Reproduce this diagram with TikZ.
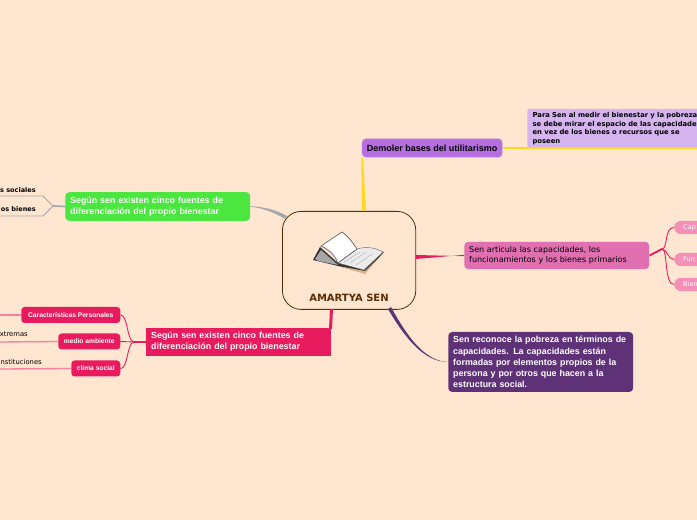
\documentclass[tikz,border=0pt]{standalone}
\usepackage{fontspec}
\setmainfont{Liberation Sans}
\newfontfamily\verdanafont{DejaVu Sans}
\usetikzlibrary{calc}
\definecolor{bgcol}{HTML}{FEE6D0}
\definecolor{browncol}{HTML}{5A2D06}
\definecolor{greencol}{HTML}{4CE640}
\definecolor{redcol}{HTML}{E91B5F}
\definecolor{pinkline}{HTML}{F77FA0}
\definecolor{violetcol}{HTML}{B66FE0}
\definecolor{lilaccol}{HTML}{D6B4F0}
\definecolor{yellowcol}{HTML}{FFD71F}
\definecolor{rosecol}{HTML}{E070B0}
\definecolor{softpink}{HTML}{F48FB8}
\definecolor{plumcol}{HTML}{5F3278}
\definecolor{grayline}{HTML}{A3A6AC}
\tikzset{
  topic/.style={anchor=west,rounded corners=3pt,align=left,inner ysep=0pt,inner xsep=3.7pt,
    font=\fontsize{6.65}{8.4}\selectfont\bfseries,text=white},
  leaf/.style={anchor=west,rounded corners=2.5pt,align=center,inner ysep=0pt,inner xsep=0pt,
    fill=redcol,text=white,font=\fontsize{5}{6}\selectfont\bfseries},
  softleaf/.style={anchor=west,rounded corners=5pt,align=left,inner ysep=0pt,inner xsep=6.7pt,
    fill=softpink,text=white,font=\verdanafont\fontsize{4.9}{6}\selectfont,minimum height=10pt,text width=35pt},
  tail/.style={anchor=east,inner sep=0pt,font=\verdanafont\fontsize{5.1}{6}\selectfont},
  fork/.style={line width=0.65pt,line cap=round},
}
\begin{document}
\begin{tikzpicture}[x=0.75pt,y=-0.75pt,line join=round]
\useasboundingbox (0,0) rectangle (697,520);
\clip (0,0) rectangle (697,520);
\fill[bgcol] (0,0) rectangle (697,520);

% nodes
\node[draw=browncol,fill=bgcol,rounded corners=14pt,line width=0.6pt,minimum width=100pt,minimum height=73.5pt,anchor=north west] (sen) at (282,211) {};
\node[anchor=base,text=browncol,font=\verdanafont\fontsize{7.5}{9}\selectfont\bfseries,inner sep=0pt] (senlabel) at (349,302) {AMARTYA SEN};

\node[topic,fill=greencol,minimum width=138.7pt,minimum height=21.5pt,text width=131.3pt] (fuentes) at (65,206.5) {Según sen existen cinco fuentes de\\diferenciación del propio bienestar};
\node[topic,fill=redcol,rounded corners=0pt,minimum width=138.7pt,minimum height=21pt,text width=131.3pt] (fuentesb) at (146,342) {Según sen existen cinco fuentes de\\diferenciación del propio bienestar};
\node[topic,fill=violetcol,text=black,minimum width=104.6pt,minimum height=14pt,font=\fontsize{6.75}{8}\selectfont\bfseries] (demoler) at (361.7,148) {Demoler bases del utilitarismo};
\node[topic,fill=lilaccol,text=black,minimum width=150pt,minimum height=29.5pt,text width=142pt,rounded corners=2pt,inner xsep=3.3pt,font=\verdanafont\fontsize{5.1}{6.5}\selectfont\bfseries] (para) at (527,128.5) {Para Sen al medir el bienestar y la pobreza\\se debe mirar el espacio de las capacidade\\en vez de los bienes o recursos que se\\poseen};
\node[topic,fill=rosecol,text=black,minimum width=138.7pt,minimum height=20.5pt,text width=131.3pt,inner xsep=3.4pt,font=\verdanafont\fontsize{6}{7.2}\selectfont] (articula) at (464,255.5) {Sen articula las capacidades, los\\funcionamientos y los bienes primarios};
\node[topic,fill=plumcol,minimum width=138.7pt,minimum height=45pt,text width=131.3pt] (reconoce) at (448,362) {Sen reconoce la pobreza en términos de\\capacidades. La capacidades están\\formadas por elementos propios de la\\persona y por otros que hacen a la\\estructura social.};

\node[leaf,minimum width=74.3pt,minimum height=12pt] (caract) at (21,315) {Características Personales};
\node[leaf,minimum width=46.5pt,minimum height=12pt] (medio) at (58,341.5) {medio ambiente};
\node[leaf,minimum width=36.8pt,minimum height=12pt] (clima) at (71,368.5) {clima social};

\node[softleaf] (cap) at (674,227.5) {Cap};
\node[softleaf] (fun) at (674,259.5) {Fun};
\node[softleaf] (bien) at (674,284.5) {Bien};

\node[tail,font=\verdanafont\fontsize{4.9}{6}\selectfont\bfseries] (sociales) at (36,190) {s sociales};
\node[tail,font=\verdanafont\fontsize{4.9}{6}\selectfont\bfseries] (bienes) at (36,209) {os bienes};
\node[tail] (extremas) at (28,334.5) {xtremas};
\node[tail] (instit) at (42,361.5) {nstituciones};

% coordinates for the forks
\coordinate (forkgray) at (53,206);
\coordinate (forkred) at (134,342);
\coordinate (forkpink) at (662,249);
\coordinate (edgegraya) at (0,196);
\coordinate (edgegrayb) at (0,216);
\coordinate (edgereda) at (0,315);
\coordinate (edgeredb) at (0,342);
\coordinate (edgeredc) at (0,369);
\coordinate (edgeyellow) at (697,148);

% main branches
\fill[grayline] ([yshift=0.3pt]fuentes.east) .. controls (262,207) and (275,209) .. (287,216) -- (285,219) .. controls (274,212) and (262,208) .. ([yshift=-0.1pt]fuentes.east) -- cycle;
\fill[yellowcol] ([xshift=-0.3pt]demoler.south west) -- ([xshift=0.9pt]demoler.south west) -- (366,211) -- (362,211) -- cycle;
\fill[redcol] ([yshift=-0.5pt]articula.west) -- ([yshift=0.5pt]articula.west) -- (416,259) -- (416,255) -- cycle;
\fill[redcol] (330,309) -- (333,309) -- (332,329) -- (329,329) -- cycle;
\fill[plumcol] (388,309) -- (391,307) .. controls (408,338) and (425,361) .. (reconoce.west) .. controls (424,362) and (405,338) .. cycle;

% top right
\draw[yellowcol,line width=0.8pt] (demoler.east) -- (edgeyellow);

% left gray fork
\draw[grayline,line width=1.2pt] (fuentes.west) -- (forkgray);
\draw[grayline,line width=0.6pt] (forkgray) -- (43,196) -- (edgegraya);
\draw[grayline,line width=0.6pt] (forkgray) -- (43,216) -- (edgegrayb);

% red fork
\draw[redcol,line width=1.4pt] (fuentesb.west) -- (forkred);
\draw[redcol,fork] (forkred) .. controls (127,342) and (128,315) .. (caract.east);
\draw[redcol,fork] (forkred) -- (medio.east);
\draw[redcol,fork] (forkred) .. controls (127,342) and (128,369) .. (clima.east);
\draw[pinkline,line width=1pt] (caract.west) -- (edgereda);
\draw[pinkline,line width=1pt] (medio.west) -- (edgeredb);
\draw[pinkline,line width=1pt] (clima.west) -- (edgeredc);

% pink fork
\draw[redcol,line width=1.4pt] (articula.east) -- (forkpink);
\draw[redcol,fork] (forkpink) .. controls (668,249) and (664,227.5) .. (cap.west);
\draw[redcol,fork] (forkpink) .. controls (667,249) and (668,259.5) .. (fun.west);
\draw[redcol,fork] (forkpink) .. controls (668,249) and (664,284.5) .. (bien.west);

% book
\fill[black!80] (313,260) -- (320,247) -- (338,263) -- (357,249) -- (384,252) -- (365,273) -- (338,266) -- cycle;
\fill[black!35] (315,259) -- (321,250) -- (338,265) -- (318,261) -- cycle;
\fill[brown!60!white] (338,266) -- (365,274) -- (384,252) -- (383,254) -- (365,271) -- cycle;
\fill[black!8,draw=black!60,line width=0.3pt] (338,263) -- (357,249) .. controls (367,246) and (376,248) .. (383,252) -- (364,270) -- cycle;
\draw[black!30,line width=0.3pt] (344,262) -- (360,252) (350,263) -- (366,252) (356,265) -- (372,254);
\fill[white,draw=black!65,line width=0.5pt] (321,246) -- (342,232) .. controls (349,237) and (353,243) .. (357,249) -- (338,263) .. controls (335,256) and (330,250) .. (321,246) -- cycle;
\end{tikzpicture}
\end{document}
